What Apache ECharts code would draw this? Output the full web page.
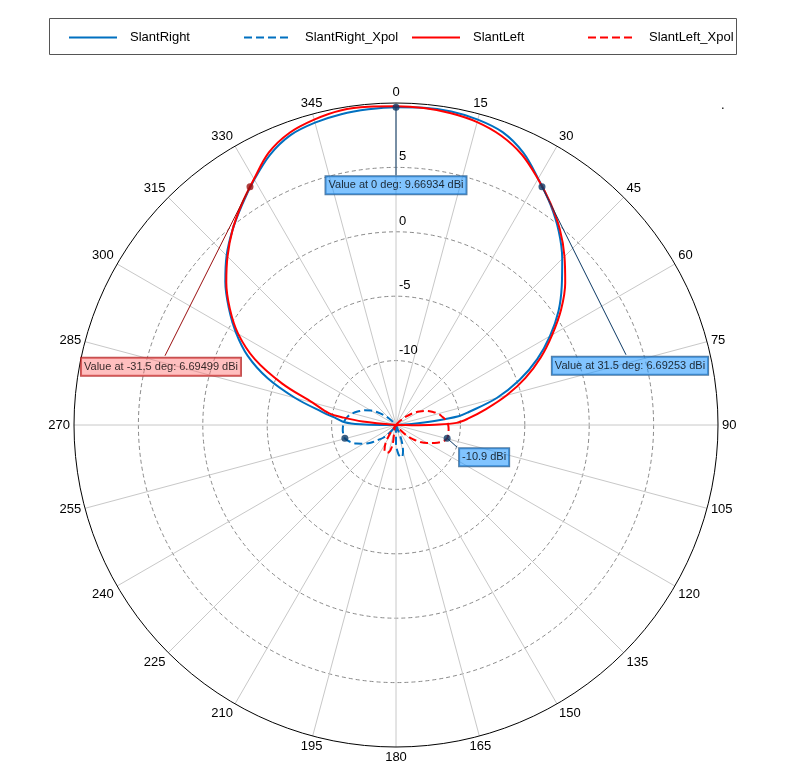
<!DOCTYPE html>
<html>
<head>
<meta charset="utf-8">
<script src="https://cdn.jsdelivr.net/npm/echarts/dist/echarts.min.js"></script>
<style>
html, body { margin: 0; padding: 0; background: #fff; }
#main { width: 785px; height: 780px; }
</style>
</head>
<body>
<div id="main"></div>
<script>
// azimuth in degrees (negative = left of boresight), gain in dBi
var slantRightAngles = [-91, -90, -89, -87, -84, -80, -75, -70, -65, -60, -55, -50, -45, -40, -35, -30, -25, -20, -15, -10, -5,
  0, 5, 10, 15, 20, 25, 30, 35, 40, 45, 50, 55, 60, 65, 70, 75, 80, 82, 84, 86, 88];
var slantRightGain = [-15, -13.8, -12.2, -11.0, -10.4, -9.2, -6.9, -4.4, -2.3, -0.65, 0.85, 2.3, 3.6, 4.75, 5.85, 7.0, 8.15, 8.95, 9.3, 9.5, 9.6,
  9.67, 9.73, 9.72, 9.55, 9.2, 8.35, 7.08, 5.9, 4.65, 3.25, 1.8, 0.4, -1.2, -2.9, -4.8, -6.9, -9.3, -10.1, -12.0, -13.8, -15];

var slantLeftAngles = [-86, -84, -82, -80, -75, -70, -65, -60, -55, -50, -45, -40, -35, -30, -25, -20, -15, -10, -5,
  0, 5, 10, 15, 20, 25, 30, 35, 40, 45, 50, 55, 60, 65, 70, 75, 80, 85, 88, 89.5, 90.5, 92];
var slantLeftGain = [-15, -12.4, -10.9, -9.7, -8.3, -5.6, -2.9, -0.85, 0.75, 2.2, 3.5, 4.75, 5.9, 7.05, 8.35, 9.15, 9.55, 9.8, 9.8,
  9.74, 9.7, 9.58, 9.35, 8.9, 8.15, 7.05, 5.95, 4.8, 3.5, 2.15, 0.65, -1.0, -2.6, -4.3, -6.1, -7.9, -9.4, -10.3, -12.0, -13.8, -15];

var slantRightXpolAngles = [0, 30, 60, 90, 120, 150, 155, 160, 165, 170, 175, 180, 185, 190, 200, 210, 215, 220, 225, 230,
  235, 240, 245, 250, 255, 260, 265, 270, 275, 280, 285, 290, 295, 300, 305, 310, 315, 320, 330, 360];
var slantRightXpolGain = [-15, -15, -15, -15, -15, -15, -15, -13.8, -12.9, -12.45, -12.7, -13.6, -15, -15, -15, -15, -14.6, -14.1, -13.6, -13.2,
  -12.6, -12.1, -11.6, -11.2, -10.9, -10.85, -10.85, -10.9, -11.0, -11.2, -11.5, -11.9, -12.3, -12.75, -13.3, -13.9, -14.5, -15, -15, -15];

var slantLeftXpolAngles = [0, 30, 40, 45, 50, 55, 60, 65, 70, 75, 80, 85, 90, 95, 100, 105, 110, 115, 120, 125,
  130, 135, 140, 145, 150, 180, 185, 190, 195, 200, 205, 210, 215, 220, 240, 270, 300, 330, 360];
var slantLeftXpolGain = [-15, -15, -15, -14.6, -14.0, -13.4, -12.9, -12.4, -12.0, -11.6, -11.35, -11.1, -10.95, -10.9, -10.88, -10.9, -11.2, -11.7, -12.2, -12.7,
  -13.3, -13.9, -14.6, -15, -15, -15, -15, -13.4, -12.8, -12.7, -12.9, -13.4, -14.2, -15, -15, -15, -15, -15, -15];

var seriesNames = ['SlantRight', 'SlantRight_Xpol', 'SlantLeft', 'SlantLeft_Xpol'];

// annotated points
var markAngles = [0, 31.5, -31.5, 104.5, 255.5];
var markGain = [9.66934, 6.69253, 6.69499, -10.9, -10.9];
var markTexts = ['Value at 0 deg: 9.66934 dBi', 'Value at 31.5 deg: 6.69253 dBi', 'Value at -31.5 deg: 6.69499 dBi', '-10.9 dBi', ''];

var BLUE = '#0070c0';
var RED = '#ff0000';
var FONT = 'Liberation Sans, Arial, sans-serif';

function toPolar(angles, gains) {
  return angles.map(function (a, i) {
    return [gains[i], (a + 360) % 360];
  });
}

function patternSeries(name, angles, gains, color, dashed) {
  return {
    name: name,
    type: 'line',
    coordinateSystem: 'polar',
    data: toPolar(angles, gains),
    symbol: 'none',
    smooth: 0.35,
    itemStyle: { color: color },
    lineStyle: { color: color, width: 2, type: dashed ? [8, 4] : 'solid' },
    z: 3
  };
}

// label box style, label offset (dx,dy) and leader end offset (lx,ly) per annotation
var markStyle = [
  { dot: '#0d3a66', bg: 'rgba(30,150,255,0.7)', border: '#2b5c8c', dx: 0, dy: 78, lx: 0, ly: 68 },
  { dot: '#0d3a66', bg: 'rgba(30,150,255,0.7)', border: '#2b5c8c', dx: 88, dy: 179, lx: 84, ly: 168 },
  { dot: '#9b1010', bg: 'rgba(255,110,110,0.55)', border: '#b02020', dx: -89, dy: 180, lx: -85, ly: 169 },
  { dot: '#0d3a66', bg: 'rgba(30,150,255,0.7)', border: '#2b5c8c', dx: 37, dy: 19, lx: 10, ly: 9 },
  { dot: '#0d3a66', bg: 'none', border: 'none', dx: 0, dy: 0, lx: 0, ly: 0 }
];

var markSeries = markAngles.map(function (a, i) {
  var s = markStyle[i];
  return {
    type: 'scatter',
    coordinateSystem: 'polar',
    silent: true,
    data: [[markGain[i], (a + 360) % 360]],
    symbolSize: 7,
    itemStyle: { color: s.dot },
    label: {
      show: markTexts[i] !== '',
      position: 'inside',
      formatter: markTexts[i],
      color: '#000',
      fontSize: 11,
      fontFamily: FONT,
      backgroundColor: s.bg,
      borderColor: s.border,
      borderWidth: 1,
      padding: [4, 3, 3, 3]
    },
    labelLayout: { dx: s.dx, dy: s.dy },
    z: 10
  };
});

// one legend per entry so each sits in its own column of the framed legend row
var legendLeft = [68, 243, 411, 587];
var legends = seriesNames.map(function (n, i) {
  return {
    left: legendLeft[i],
    top: 31,
    padding: 0,
    itemWidth: 48,
    itemHeight: 14,
    itemStyle: { opacity: 0 },
    data: [n],
    textStyle: { fontSize: 13, color: '#000', fontFamily: FONT, padding: [0, 0, 0, 8] }
  };
});

var chart = echarts.init(document.getElementById('main'));

chart.setOption({
  animation: false,
  backgroundColor: '#fff',
  legend: legends,
  polar: { center: [396, 425], radius: 322 },
  angleAxis: {
    type: 'value',
    min: 0,
    max: 360,
    interval: 15,
    startAngle: 90,
    clockwise: true,
    axisLine: { lineStyle: { color: '#000', width: 1 } },
    axisTick: { show: false },
    axisLabel: { fontSize: 13, color: '#000', fontFamily: FONT, margin: 4 },
    splitLine: { show: true, lineStyle: { color: '#c8c8c8', width: 1 } }
  },
  radiusAxis: {
    type: 'value',
    min: -15,
    max: 10,
    interval: 5,
    axisLine: { show: false },
    axisTick: { show: false },
    axisLabel: {
      showMinLabel: false,
      showMaxLabel: false,
      fontSize: 13,
      color: '#000',
      fontFamily: FONT,
      align: 'left',
      verticalAlign: 'bottom',
      margin: -3,
      padding: [0, 0, 4, 0]
    },
    splitLine: {
      show: true,
      lineStyle: {
        type: [4, 3],
        width: 1,
        color: ['rgba(0,0,0,0)', '#8a8a8a', '#8a8a8a', '#8a8a8a', '#8a8a8a', 'rgba(0,0,0,0)']
      }
    }
  },
  series: [
    patternSeries(seriesNames[0], slantRightAngles, slantRightGain, BLUE, false),
    patternSeries(seriesNames[1], slantRightXpolAngles, slantRightXpolGain, BLUE, true),
    patternSeries(seriesNames[2], slantLeftAngles, slantLeftGain, RED, false),
    patternSeries(seriesNames[3], slantLeftXpolAngles, slantLeftXpolGain, RED, true)
  ].concat(markSeries)
});

// legend frame, stray dot, and leader lines from each marked point to its label box
var graphics = [
  { type: 'rect', silent: true, shape: { x: 49.5, y: 18.5, width: 687, height: 36 }, style: { fill: 'none', stroke: '#555', lineWidth: 1 } },
  { type: 'text', left: 721, top: 99, style: { text: '.', fontSize: 13, fill: '#000', fontFamily: FONT } }
];
markAngles.forEach(function (a, i) {
  var s = markStyle[i];
  if (!markTexts[i]) return;
  var p = chart.convertToPixel({ seriesIndex: 4 + i }, [markGain[i], (a + 360) % 360]);
  graphics.push({
    type: 'line',
    silent: true,
    z: 5,
    shape: { x1: p[0], y1: p[1], x2: p[0] + s.lx, y2: p[1] + s.ly },
    style: { stroke: s.dot, lineWidth: 1 }
  });
});
chart.setOption({ graphic: graphics });
</script>
</body>
</html>
